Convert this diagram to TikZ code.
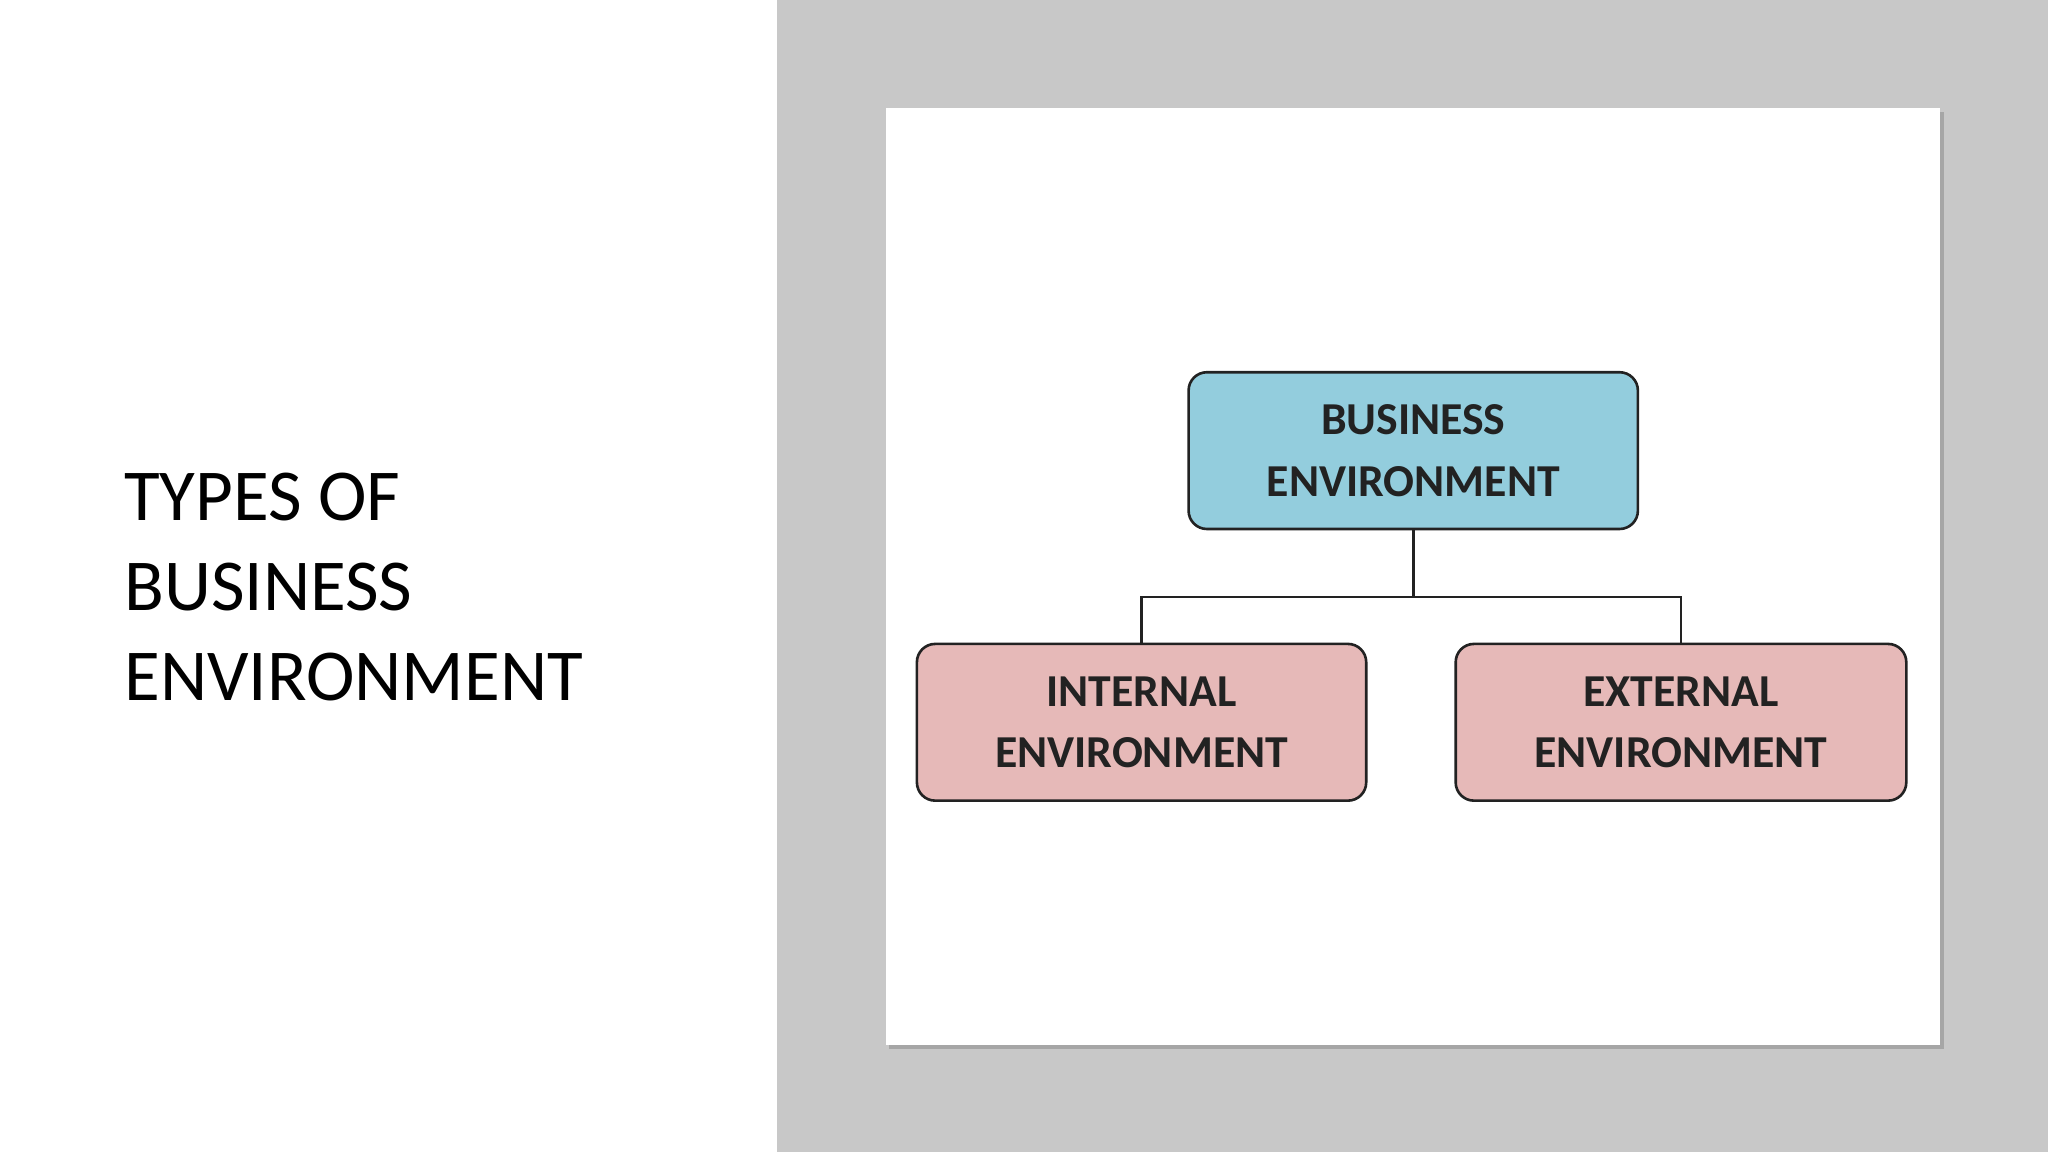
\documentclass[tikz,border=0pt]{standalone}
\usepackage{fontspec}
\setmainfont{Carlito}
\definecolor{panel}{HTML}{C8C8C8}
\definecolor{blu}{HTML}{93CDDD}
\definecolor{pnk}{HTML}{E6B9B8}
\definecolor{edge}{HTML}{222222}
\begin{document}
\begin{tikzpicture}[x=1pt,y=-1pt,
  box/.style={draw=edge,line width=2pt,rounded corners=14pt,minimum width=344pt,minimum height=120pt,align=center,font=\fontsize{35}{47}\selectfont\bfseries,text=edge},
  conn/.style={draw=edge,line width=2pt}]
\useasboundingbox (0,0) rectangle (1568,882);
\fill[white] (0,0) rectangle (595,882);
\fill[panel] (595,0) rectangle (1568,882);
\fill[black!35] (681,86) rectangle (1488,803);
\fill[white] (678,83) rectangle (1485,800);
\node[anchor=north west,align=left,font=\fontsize{56}{69}\selectfont,inner sep=0pt] (title) at (95,362) {TYPES OF\\BUSINESS\\ENVIRONMENT};
\node[box,fill=blu] (top) at (1082,345) {BUSINESS\\ENVIRONMENT};
\node[box,fill=pnk] (int) at (874,553) {INTERNAL\\ENVIRONMENT};
\node[box,fill=pnk,minimum width=345pt] (ext) at (1287,553) {EXTERNAL\\ENVIRONMENT};
\coordinate (mid) at (1082,457);
\draw[conn] (top.south) -- (mid);
\draw[conn] (int.north) |- (mid) -| (ext.north);
\end{tikzpicture}
\end{document}
